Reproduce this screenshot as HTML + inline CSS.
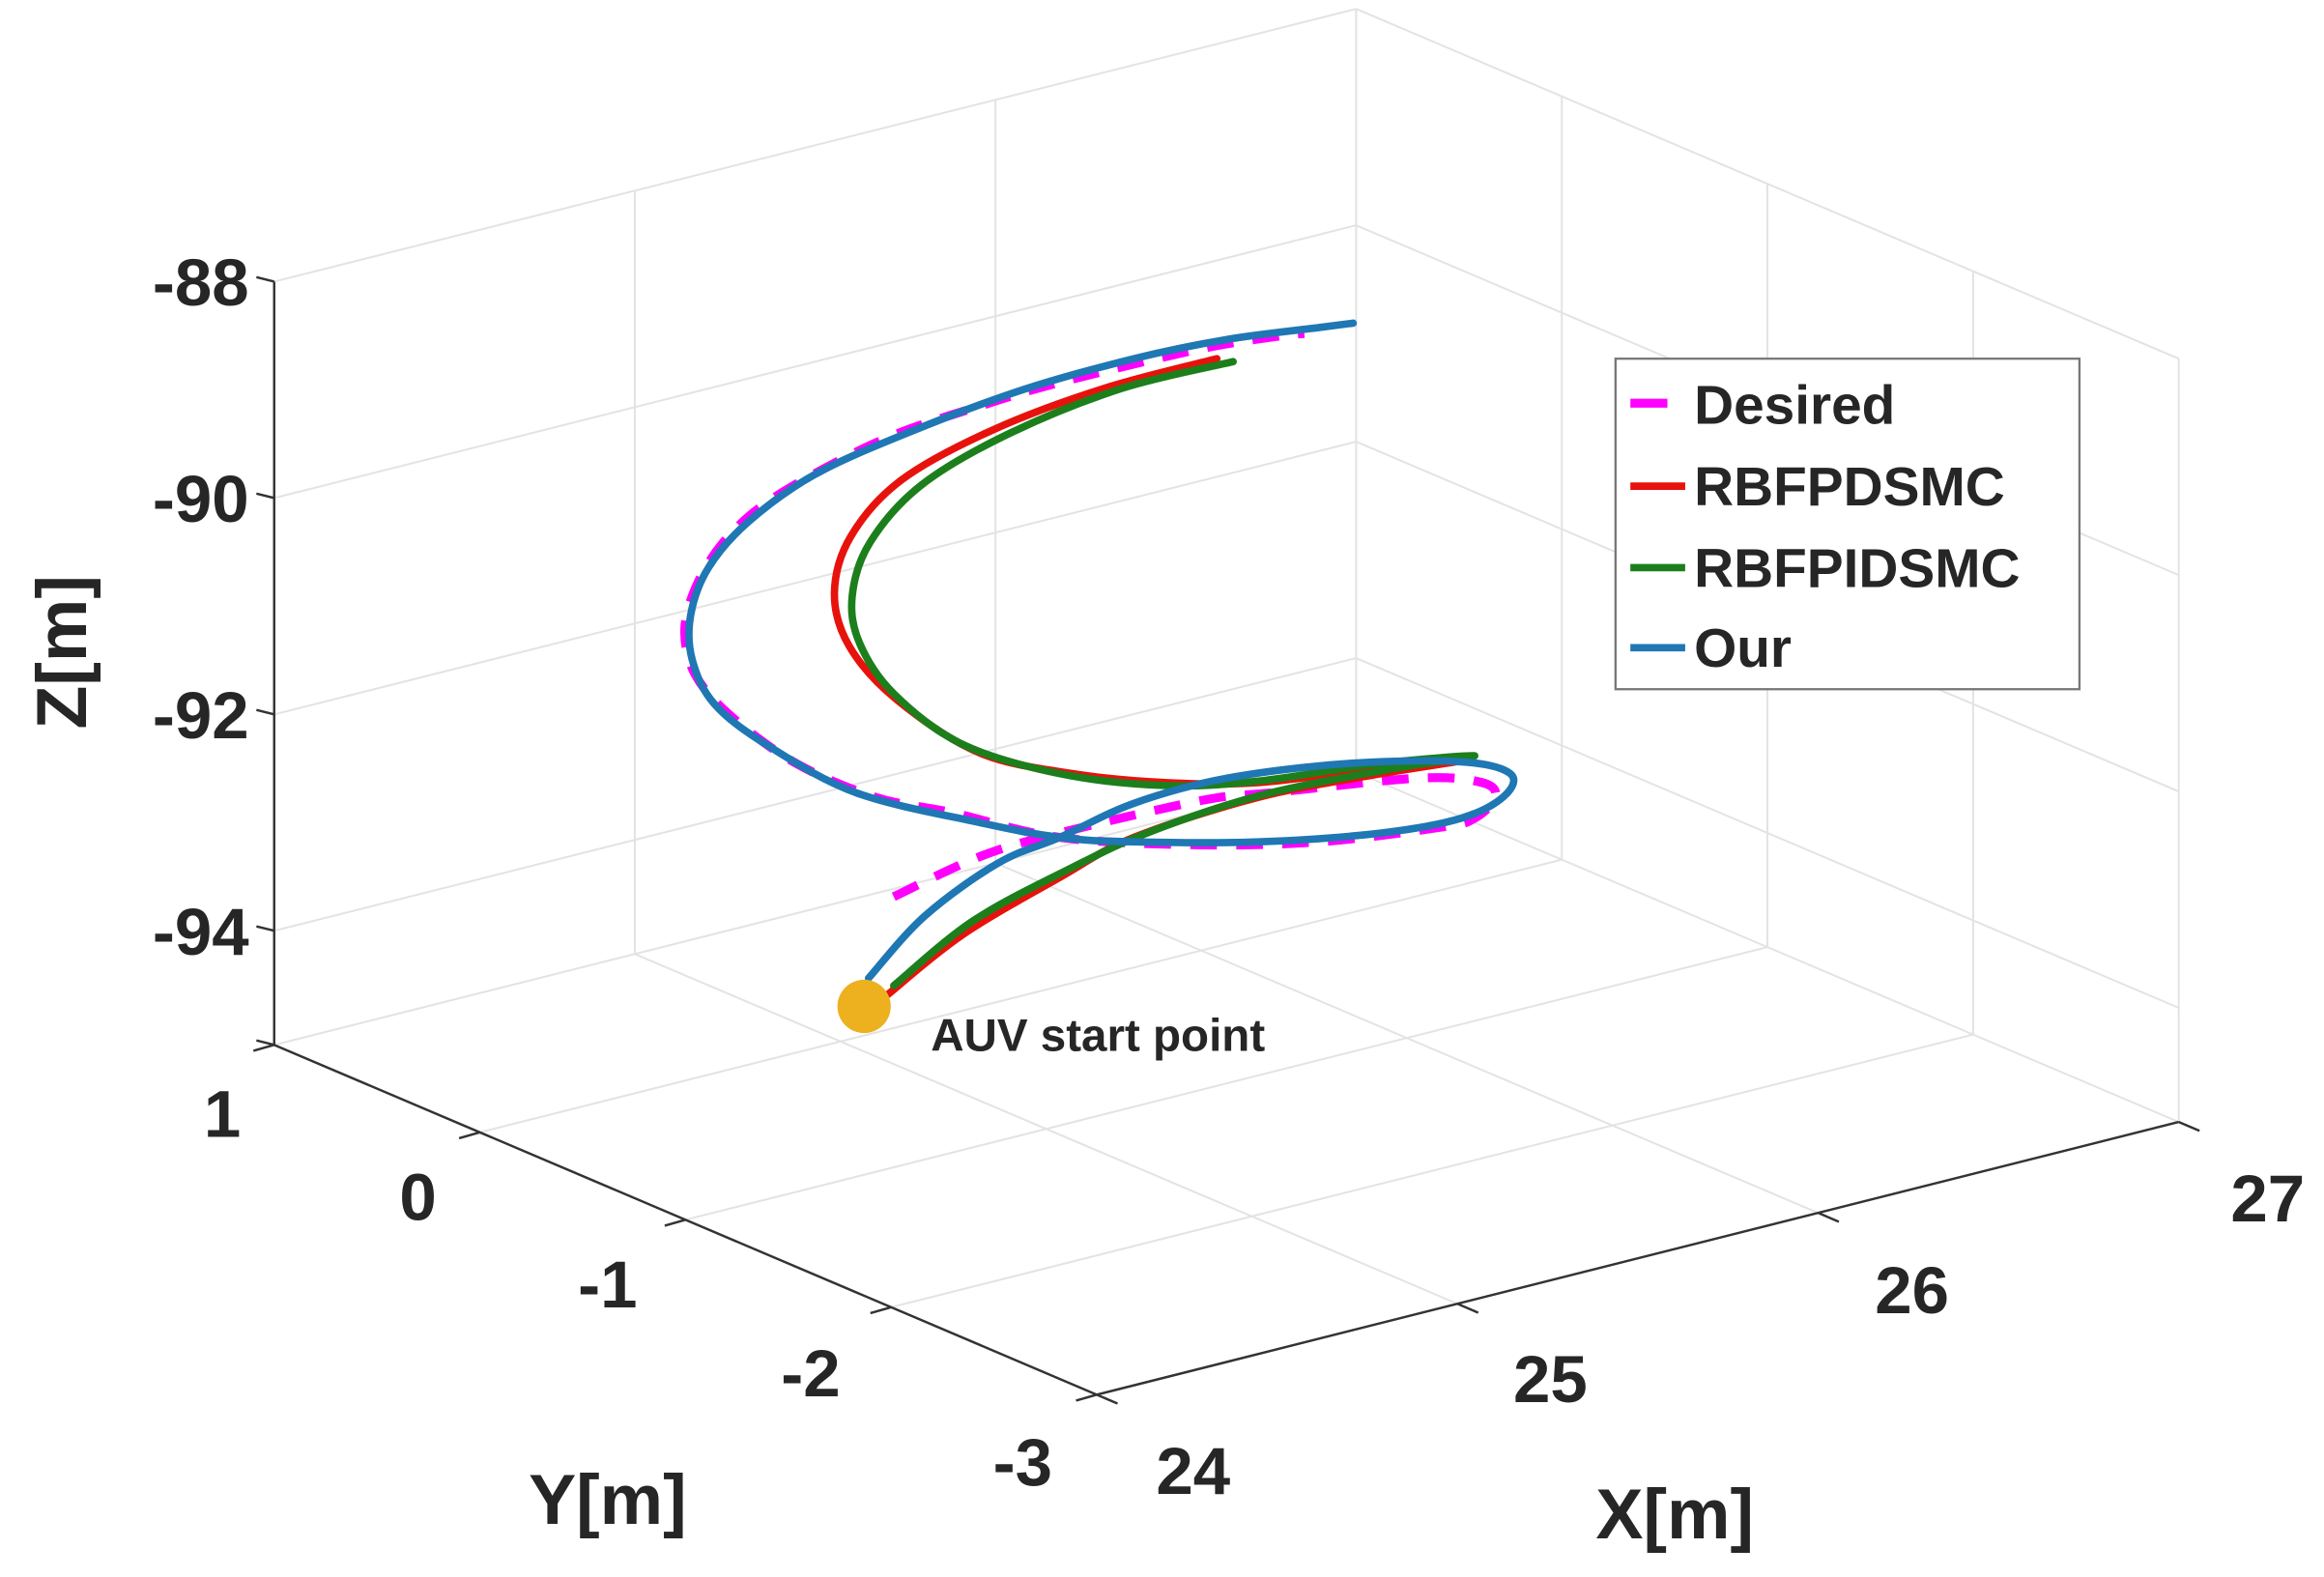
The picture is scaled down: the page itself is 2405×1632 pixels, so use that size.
<!DOCTYPE html>
<html><head><meta charset="utf-8"><style>
html,body{margin:0;padding:0;background:#fff}
svg{display:block}
text{font-family:"Liberation Sans",Arial,sans-serif;font-weight:bold;fill:#262626}
</style></head><body>
<svg id="s" width="2405" height="1632" viewBox="0 0 1568 1064" xmlns="http://www.w3.org/2000/svg">
<rect width="1568" height="1064" fill="#fff"/>
<g id="grid" stroke="#e3e3e3" stroke-width="1.3" fill="none"></g>
<g id="axes" stroke="#333" stroke-width="1.6" fill="none"></g>
<g id="curves" fill="none" stroke-linecap="round" stroke-linejoin="round"></g>
<circle cx="583" cy="679" r="18" fill="#EDB120"/>
<text x="628" y="709" font-size="31" fill="#111">AUV start point</text>
<g font-size="45" text-anchor="end">
<text x="168" y="206">-88</text>
<text x="168" y="352">-90</text>
<text x="168" y="498">-92</text>
<text x="168" y="644">-94</text>
</g>
<g font-size="45" text-anchor="middle">
<text x="150" y="767">1</text>
<text x="282" y="823">0</text>
<text x="410" y="882">-1</text>
<text x="547" y="942">-2</text>
<text x="690" y="1002">-3</text>
<text x="805" y="1008">24</text>
<text x="1046" y="946">25</text>
<text x="1290" y="886">26</text>
<text x="1530" y="824">27</text>
</g>
<text x="0" y="0" font-size="48" text-anchor="middle" transform="translate(58,440) rotate(-90)">Z[m]</text>
<text x="410" y="1028" font-size="48" text-anchor="middle">Y[m]</text>
<text x="1130" y="1038" font-size="48" text-anchor="middle">X[m]</text>
<rect x="1090" y="242" width="313" height="223" fill="#fff" stroke="#777" stroke-width="1.5"/>
<line x1="1100" y1="272" x2="1125" y2="272" stroke="#FF00FF" stroke-width="6"/>
<line x1="1100" y1="328" x2="1137" y2="328" stroke="#E8120C" stroke-width="5"/>
<line x1="1100" y1="383" x2="1137" y2="383" stroke="#1C7F1C" stroke-width="5"/>
<line x1="1100" y1="437" x2="1137" y2="437" stroke="#1F77B4" stroke-width="5"/>
<g font-size="37" fill="#111">
<text x="1143" y="286">Desired</text>
<text x="1143" y="341">RBFPDSMC</text>
<text x="1143" y="396">RBFPIDSMC</text>
<text x="1143" y="450">Our</text>
</g>
</svg>
<script>
var NS="http://www.w3.org/2000/svg";
function L(g,x1,y1,x2,y2){var l=document.createElementNS(NS,"line");l.setAttribute("x1",x1);l.setAttribute("y1",y1);l.setAttribute("x2",x2);l.setAttribute("y2",y2);g.appendChild(l);}
var grid=document.getElementById("grid"),axes=document.getElementById("axes");
var A=[185,705],B=[740,941],C=[1470,757],D=[915,521];
var dx=[(C[0]-B[0])/3,(C[1]-B[1])/3], dy=[(B[0]-A[0])/4,(B[1]-A[1])/4];
var zoff=[0,-77,-223,-369,-515];
for(var i=0;i<=3;i++)L(grid,A[0]+i*dx[0],A[1]+i*dx[1],B[0]+i*dx[0],B[1]+i*dx[1]);
for(var j=0;j<=4;j++)L(grid,A[0]+j*dy[0],A[1]+j*dy[1],D[0]+j*dy[0],D[1]+j*dy[1]);
for(var i=0;i<=3;i++){var x=A[0]+i*dx[0],y=A[1]+i*dx[1];L(grid,x,y,x,y-515);}
for(var k=1;k<5;k++)L(grid,A[0],A[1]+zoff[k],D[0],D[1]+zoff[k]);
for(var j=0;j<=4;j++){var x=D[0]+j*dy[0],y=D[1]+j*dy[1];L(grid,x,y,x,y-515);}
for(var k=1;k<5;k++)L(grid,D[0],D[1]+zoff[k],C[0],C[1]+zoff[k]);
L(axes,A[0],A[1]-515,A[0],A[1]);
for(var k=1;k<5;k++)L(axes,A[0]-12,A[1]+zoff[k]-3,A[0],A[1]+zoff[k]);
L(axes,A[0]-12,A[1]-3,A[0],A[1]);
L(axes,A[0],A[1],B[0],B[1]);
for(var j=0;j<=4;j++)L(axes,A[0]+j*dy[0],A[1]+j*dy[1],A[0]+j*dy[0]-14,A[1]+j*dy[1]+4);
L(axes,B[0],B[1],C[0],C[1]);
for(var i=0;i<=3;i++)L(axes,B[0]+i*dx[0],B[1]+i*dx[1],B[0]+i*dx[0]+14,B[1]+i*dx[1]+6);
function cr(p){var d="M"+p[0][0]+","+p[0][1];for(var i=0;i<p.length-1;i++){var p0=p[i-1]||p[i],p1=p[i],p2=p[i+1],p3=p[i+2]||p2;
d+=" C"+(p1[0]+(p2[0]-p0[0])/6).toFixed(1)+","+(p1[1]+(p2[1]-p0[1])/6).toFixed(1)+" "+(p2[0]-(p3[0]-p1[0])/6).toFixed(1)+","+(p2[1]-(p3[1]-p1[1])/6).toFixed(1)+" "+p2[0]+","+p2[1];}return d;}
function P(pts,col,w,dash){var p=document.createElementNS(NS,"path");p.setAttribute("d",cr(pts));p.setAttribute("stroke",col);p.setAttribute("stroke-width",w);if(dash){p.setAttribute("stroke-dasharray",dash);p.setAttribute("stroke-linecap","butt");}document.getElementById("curves").appendChild(p);}
var des=[[603,605],[661,578],[715,562],[811,540],[857,535],[957,525],[1000,528],[1009,538],[995,552],[973,558],[890,568],[807,570],[715,565],[641,548],[591,538],[537,515],[493,483],[469,455],[462,425],[470,395],[488,366],[516,340],[562,313],[607,292],[661,274],[715,258],[807,236],[861,227],[880,225]];
var red=[[599,671],[649,631],[715,592],[765,565],[849,538],[932,522],[993,512],[932,518],[849,528],[786,528],[724,522],[661,508],[605,472],[573,436],[563,400],[574,362],[608,324],[670,290],[745,262],[821,242]];
var grn=[[603,665],[657,621],[724,585],[774,562],[849,537],[932,520],[995,510],[932,515],[849,527],[786,530],[715,522],[649,502],[603,468],[580,434],[575,402],[587,366],[622,327],[682,292],[757,262],[832,244]];
var blu=[[586,660],[624,618],[674,582],[715,565],[765,542],[828,525],[911,515],[986,514],[1019,522],[1015,537],[986,552],[932,562],[849,568],[765,568],[715,565],[661,555],[578,535],[518,503],[482,475],[467,445],[466,415],[478,383],[505,352],[550,320],[615,291],[690,263],[765,242],[828,229],[890,221],[913,218]];
P(des,"#FF00FF",6,"18 13");
P(red,"#E8120C",5);
P(grn,"#1C7F1C",5);
P(blu,"#1F77B4",5);
</script>
</body></html>
